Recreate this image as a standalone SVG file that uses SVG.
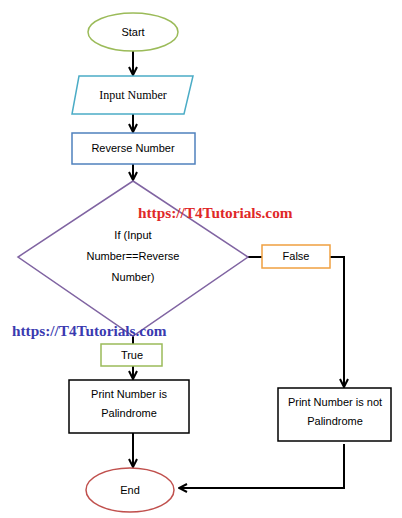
<svg xmlns="http://www.w3.org/2000/svg" width="402" height="518" viewBox="0 0 402 518">
<defs>
<marker id="arr" viewBox="0 0 10 10" refX="9" refY="5" markerWidth="5" markerHeight="5" orient="auto" markerUnits="strokeWidth">
<path d="M1,1 L9,5 L1,9" fill="none" stroke="#000" stroke-width="2"/>
</marker>
</defs>
<style>
.t{font-family:"Liberation Sans",Arial,sans-serif;font-size:11px;fill:#000;text-anchor:middle;dominant-baseline:central}
.c{fill:none;stroke:#000;stroke-width:2}
.wm{font-family:"Liberation Serif","Times New Roman",serif;font-size:15.3px;font-weight:bold}
</style>
<rect width="402" height="518" fill="#fff"/>
<g id="connectors">
<line class="c" x1="133" y1="51" x2="133" y2="75" marker-end="url(#arr)"/>
<line class="c" x1="133" y1="114" x2="133" y2="132" marker-end="url(#arr)"/>
<line class="c" x1="133" y1="164" x2="133" y2="180" marker-end="url(#arr)"/>
<line class="c" x1="248" y1="257" x2="262" y2="257"/>
<polyline class="c" points="330,257 344,257 344,387" marker-end="url(#arr)"/>
<line class="c" x1="133" y1="336" x2="133" y2="344"/>
<line class="c" x1="133" y1="366" x2="133" y2="379" marker-end="url(#arr)"/>
<line class="c" x1="133" y1="433" x2="133" y2="467" marker-end="url(#arr)"/>
<polyline class="c" points="344,444 344,488 179,488" marker-end="url(#arr)"/>
</g>
<g id="start">
<ellipse cx="133" cy="32" rx="45" ry="19" fill="#fff" stroke="#9bbb59" stroke-width="1.5"/>
<text class="t" x="133" y="32">Start</text>
</g>
<g id="input">
<polygon points="79,76 193,76 184,114 72,114" fill="#fff" stroke="#4bacc6" stroke-width="1.5"/>
<text class="t" x="133" y="95" style="font-family:'Liberation Serif','Times New Roman',serif;font-size:12px">Input Number</text>
</g>
<g id="reverse">
<rect x="72" y="133" width="123" height="31" fill="#fff" stroke="#4f81bd" stroke-width="1.5"/>
<text class="t" x="133" y="148">Reverse Number</text>
</g>
<g id="decision">
<polygon points="133,181 248,257 133,336 18,257" fill="#fff" stroke="#8064a2" stroke-width="1.5"/>
<text class="t" x="133" y="235">If (Input</text>
<text class="t" x="133" y="256">Number==Reverse</text>
<text class="t" x="133" y="277">Number)</text>
</g>
<g id="false">
<rect x="262" y="245" width="68" height="23" fill="#fff" stroke="#f0a040" stroke-width="1.5"/>
<text class="t" x="296" y="256">False</text>
</g>
<g id="true">
<rect x="101" y="344" width="61" height="22" fill="#fff" stroke="#9bbb59" stroke-width="1.5"/>
<text class="t" x="132" y="355">True</text>
</g>
<g id="print-yes">
<rect x="69" y="380" width="120" height="53" fill="#fff" stroke="#000" stroke-width="1.5"/>
<text class="t" x="129" y="394">Print Number is</text>
<text class="t" x="129" y="413">Palindrome</text>
</g>
<g id="print-no">
<rect x="278" y="388" width="113" height="53" fill="#fff" stroke="#000" stroke-width="1.5"/>
<text class="t" x="335" y="402">Print Number is not</text>
<text class="t" x="335" y="421">Palindrome</text>
</g>
<g id="end">
<ellipse cx="130" cy="490" rx="44" ry="22" fill="#fff" stroke="#c0504d" stroke-width="1.5"/>
<text class="t" x="130" y="490">End</text>
</g>
<g id="watermarks">
<text class="wm" x="138" y="218" fill="#e02828">https://T4Tutorials.com</text>
<text class="wm" x="12" y="336" fill="#3a3ab0">https://T4Tutorials.com</text>
</g>
</svg>
